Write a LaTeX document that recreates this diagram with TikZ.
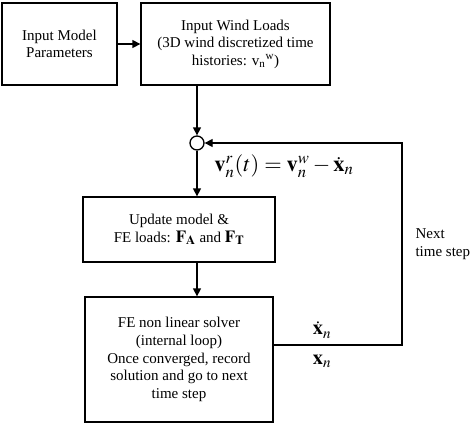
\documentclass[tikz,border=0pt]{standalone}
\usepackage{mathptmx}
\usepackage{fontspec}
\setmainfont{Liberation Serif}
\usetikzlibrary{arrows.meta}
\newcommand{\mfs}{\fontsize{17}{20}\selectfont}
\newcommand{\mybigmath}[2]{\scalebox{#1}{#2}}
\begin{document}
\begin{tikzpicture}[x=1pt,y=-1pt,
  every node/.style={font=\fontsize{15}{17.6}\selectfont},
  box/.style={draw,line width=1.3pt,align=center,inner sep=0pt},
  conn/.style={line width=1.3pt,-{Triangle[length=8pt,width=8pt]}},
  mlab/.style={font=\mfs,inner sep=1pt}]
\useasboundingbox (0,0) rectangle (474,426);
\node[box,minimum width=115,minimum height=82] (b1) at (59.5,44) {Input Model\\Parameters};
\node[box,minimum width=189,minimum height=82] (b2) at (235.5,44) {Input Wind Loads\\(3D wind discretized time\\histories: v\textsubscript{n}\textsuperscript{w})};
\node[draw,circle,line width=1.3pt,minimum size=14,inner sep=0pt] (c) at (197,143) {};
\node[box,minimum width=192,minimum height=65] (b3) at (179,229.5) {Update model \&\\FE loads: \mfs$\mathbf{F_A}$\fontsize{15}{17.6}\selectfont{} and \mfs$\mathbf{F_T}$};
\node[box,minimum width=188,minimum height=125] (b4) at (179,359.5) {FE non linear solver\\(internal loop)\\Once converged, record\\solution and go to next\\time step};
\coordinate (k1) at (402,143);
\coordinate (k2) at (402,345);
\draw[conn] (b1) -- (b2);
\draw[conn] (b2.south -| c) -- (c);
\draw[conn] (c) -- (b3.north -| c);
\draw[conn] (b3.south -| c) -- (b4.north -| c);
\draw[conn] (b4.east |- k2) -- (k2) -- (k1) -- (c);
\node[mlab] (lv) at (284,166) {\mybigmath{1.32}{$\mathbf{v}_n^r(t)=\mathbf{v}_n^w-\dot{\mathbf{x}}_n$}};
\node[align=left,anchor=west] (ln) at (412,244) {Next\\time step};
\node[mlab] (ld) at (322,330) {\mybigmath{1.2}{$\dot{\mathbf{x}}_n$}};
\node[mlab] (lx) at (322,361) {\mybigmath{1.2}{$\mathbf{x}_n$}};
\end{tikzpicture}
\end{document}
